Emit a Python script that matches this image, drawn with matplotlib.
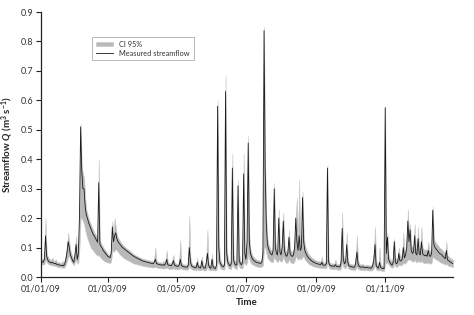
import matplotlib
matplotlib.use("Agg")
import matplotlib.pyplot as plt
import matplotlib.dates as mdates
import numpy as np
import pandas as pd

plt.rcParams['font.family'] = ['Lato', 'DejaVu Sans']
plt.rcParams['mathtext.fontset'] = 'custom'
plt.rcParams['mathtext.rm'] = 'Lato:bold'
plt.rcParams['mathtext.it'] = 'Lato:bold:italic'
plt.rcParams['mathtext.bf'] = 'Lato:bold'

# ---- daily measured streamflow (m3/s), 2009 ----
q_jan = [0.055, 0.052, 0.050, 0.060, 0.140, 0.070, 0.058, 0.052, 0.050, 0.048, 0.050, 0.047, 0.045, 0.046, 0.043, 0.042, 0.041, 0.040, 0.039, 0.040, 0.038, 0.045, 0.060, 0.085, 0.120, 0.100, 0.075, 0.065, 0.055, 0.050, 0.075]
q_feb = [0.110, 0.060, 0.080, 0.210, 0.510, 0.360, 0.300, 0.300, 0.240, 0.210, 0.200, 0.185, 0.175, 0.165, 0.155, 0.145, 0.140, 0.132, 0.125, 0.118, 0.320, 0.110, 0.104, 0.098, 0.090, 0.085, 0.080, 0.075]
q_mar = [0.070, 0.068, 0.066, 0.080, 0.170, 0.120, 0.140, 0.150, 0.130, 0.120, 0.115, 0.110, 0.105, 0.100, 0.097, 0.094, 0.091, 0.088, 0.085, 0.082, 0.079, 0.076, 0.073, 0.070, 0.068, 0.066, 0.064, 0.062, 0.060, 0.058, 0.056]
q_apr = [0.054, 0.053, 0.052, 0.051, 0.050, 0.049, 0.048, 0.047, 0.046, 0.045, 0.050, 0.060, 0.046, 0.044, 0.043, 0.042, 0.041, 0.040, 0.042, 0.040, 0.045, 0.060, 0.042, 0.040, 0.039, 0.038, 0.045, 0.055, 0.040, 0.038]
q_may = [0.037, 0.036, 0.040, 0.060, 0.040, 0.036, 0.035, 0.034, 0.034, 0.033, 0.040, 0.100, 0.050, 0.038, 0.035, 0.033, 0.032, 0.032, 0.050, 0.034, 0.032, 0.031, 0.055, 0.035, 0.031, 0.030, 0.050, 0.080, 0.040, 0.032, 0.030]
q_jun = [0.060, 0.035, 0.030, 0.029, 0.040, 0.580, 0.100, 0.050, 0.042, 0.037, 0.035, 0.040, 0.630, 0.080, 0.050, 0.042, 0.038, 0.045, 0.370, 0.060, 0.045, 0.040, 0.042, 0.310, 0.060, 0.045, 0.042, 0.050, 0.350, 0.080]
q_jul = [0.060, 0.120, 0.455, 0.120, 0.080, 0.068, 0.060, 0.056, 0.053, 0.050, 0.049, 0.048, 0.047, 0.046, 0.050, 0.080, 0.837, 0.360, 0.180, 0.110, 0.095, 0.085, 0.078, 0.075, 0.090, 0.300, 0.100, 0.080, 0.075, 0.200, 0.085]
q_aug = [0.075, 0.100, 0.190, 0.090, 0.075, 0.070, 0.080, 0.135, 0.080, 0.072, 0.070, 0.075, 0.100, 0.200, 0.120, 0.090, 0.140, 0.090, 0.100, 0.270, 0.120, 0.090, 0.080, 0.072, 0.066, 0.062, 0.058, 0.055, 0.052, 0.050, 0.048]
q_sep = [0.046, 0.045, 0.044, 0.043, 0.042, 0.050, 0.041, 0.040, 0.040, 0.045, 0.370, 0.050, 0.040, 0.038, 0.037, 0.037, 0.036, 0.042, 0.036, 0.035, 0.035, 0.034, 0.050, 0.165, 0.060, 0.045, 0.050, 0.110, 0.050, 0.038]
q_oct = [0.036, 0.035, 0.034, 0.033, 0.034, 0.050, 0.085, 0.045, 0.036, 0.034, 0.033, 0.035, 0.033, 0.032, 0.032, 0.033, 0.031, 0.031, 0.030, 0.031, 0.040, 0.060, 0.110, 0.040, 0.032, 0.030, 0.050, 0.032, 0.030, 0.029, 0.028]
q_nov = [0.575, 0.080, 0.135, 0.060, 0.050, 0.045, 0.040, 0.050, 0.120, 0.050, 0.045, 0.050, 0.080, 0.055, 0.055, 0.060, 0.100, 0.065, 0.075, 0.100, 0.190, 0.120, 0.160, 0.090, 0.080, 0.085, 0.140, 0.080, 0.075, 0.130]
q_dec = [0.080, 0.075, 0.120, 0.080, 0.075, 0.072, 0.075, 0.070, 0.090, 0.072, 0.070, 0.080, 0.227, 0.110, 0.100, 0.095, 0.090, 0.085, 0.080, 0.078, 0.075, 0.070, 0.066, 0.062, 0.090, 0.058, 0.055, 0.052, 0.050, 0.047, 0.045]

# ---- 95% confidence interval, lower bound ----
lo_jan = [0.045, 0.043, 0.042, 0.044, 0.06, 0.05, 0.046, 0.043, 0.041, 0.040, 0.040, 0.039, 0.037, 0.037, 0.035, 0.034, 0.033, 0.033, 0.032, 0.032, 0.031, 0.034, 0.042, 0.055, 0.07, 0.07, 0.058, 0.05, 0.045, 0.04, 0.05]
lo_feb = [0.06, 0.045, 0.05, 0.1, 0.2, 0.2, 0.19, 0.18, 0.16, 0.145, 0.13, 0.12, 0.11, 0.1, 0.095, 0.09, 0.085, 0.08, 0.075, 0.072, 0.075, 0.068, 0.064, 0.06, 0.057, 0.054, 0.052, 0.05]
lo_mar = [0.05, 0.048, 0.047, 0.055, 0.09, 0.085, 0.09, 0.095, 0.09, 0.085, 0.08, 0.075, 0.072, 0.068, 0.065, 0.062, 0.06, 0.058, 0.056, 0.054, 0.052, 0.05, 0.048, 0.046, 0.045, 0.044, 0.043, 0.042, 0.041, 0.04, 0.039]
lo_apr = [0.038, 0.037, 0.036, 0.036, 0.035, 0.034, 0.034, 0.033, 0.033, 0.032, 0.033, 0.035, 0.032, 0.031, 0.031, 0.03, 0.03, 0.029, 0.029, 0.029, 0.03, 0.033, 0.029, 0.028, 0.028, 0.027, 0.028, 0.03, 0.027, 0.027]
lo_may = [0.027, 0.026, 0.027, 0.03, 0.028, 0.026, 0.026, 0.025, 0.025, 0.025, 0.026, 0.04, 0.03, 0.027, 0.025, 0.024, 0.024, 0.023, 0.026, 0.024, 0.023, 0.023, 0.026, 0.024, 0.022, 0.022, 0.025, 0.035, 0.026, 0.023, 0.022]
lo_jun = [0.025, 0.024, 0.022, 0.022, 0.024, 0.05, 0.045, 0.032, 0.028, 0.026, 0.025, 0.026, 0.06, 0.045, 0.033, 0.029, 0.027, 0.028, 0.05, 0.035, 0.03, 0.028, 0.028, 0.05, 0.035, 0.03, 0.029, 0.03, 0.05, 0.045]
lo_jul = [0.04, 0.05, 0.08, 0.06, 0.05, 0.045, 0.042, 0.04, 0.038, 0.036, 0.035, 0.035, 0.034, 0.034, 0.035, 0.04, 0.1, 0.1, 0.08, 0.065, 0.06, 0.056, 0.052, 0.05, 0.052, 0.07, 0.06, 0.054, 0.05, 0.06, 0.055]
lo_aug = [0.052, 0.055, 0.07, 0.058, 0.05, 0.048, 0.05, 0.06, 0.052, 0.048, 0.047, 0.048, 0.055, 0.07, 0.065, 0.058, 0.065, 0.06, 0.062, 0.07, 0.068, 0.06, 0.055, 0.05, 0.046, 0.043, 0.041, 0.039, 0.037, 0.036, 0.035]
lo_sep = [0.034, 0.033, 0.032, 0.032, 0.031, 0.032, 0.03, 0.03, 0.029, 0.03, 0.05, 0.035, 0.029, 0.028, 0.027, 0.027, 0.026, 0.028, 0.026, 0.025, 0.025, 0.025, 0.03, 0.05, 0.035, 0.03, 0.031, 0.04, 0.032, 0.027]
lo_oct = [0.026, 0.025, 0.025, 0.024, 0.024, 0.027, 0.035, 0.028, 0.025, 0.024, 0.024, 0.024, 0.023, 0.023, 0.023, 0.023, 0.022, 0.022, 0.022, 0.022, 0.025, 0.03, 0.04, 0.026, 0.023, 0.022, 0.025, 0.022, 0.021, 0.021, 0.02]
lo_nov = [0.05, 0.045, 0.05, 0.042, 0.037, 0.034, 0.031, 0.034, 0.045, 0.036, 0.034, 0.036, 0.042, 0.04, 0.04, 0.042, 0.048, 0.045, 0.048, 0.052, 0.06, 0.058, 0.06, 0.055, 0.052, 0.053, 0.058, 0.052, 0.05, 0.055]
lo_dec = [0.052, 0.05, 0.055, 0.05, 0.048, 0.047, 0.048, 0.046, 0.05, 0.046, 0.045, 0.048, 0.07, 0.065, 0.062, 0.06, 0.057, 0.055, 0.052, 0.05, 0.048, 0.046, 0.044, 0.042, 0.045, 0.04, 0.038, 0.037, 0.036, 0.035, 0.034]

# ---- 95% confidence interval, upper bound ----
hi_jan = [0.065, 0.062, 0.06, 0.08, 0.2, 0.085, 0.07, 0.063, 0.06, 0.058, 0.065, 0.056, 0.054, 0.06, 0.052, 0.05, 0.05, 0.048, 0.047, 0.055, 0.046, 0.06, 0.08, 0.11, 0.15, 0.12, 0.09, 0.078, 0.066, 0.06, 0.1]
hi_feb = [0.14, 0.075, 0.1, 0.25, 0.52, 0.38, 0.35, 0.34, 0.27, 0.23, 0.215, 0.2, 0.19, 0.18, 0.17, 0.16, 0.152, 0.145, 0.138, 0.13, 0.4, 0.125, 0.115, 0.108, 0.1, 0.095, 0.09, 0.085]
hi_mar = [0.078, 0.076, 0.074, 0.1, 0.19, 0.14, 0.2, 0.17, 0.145, 0.133, 0.127, 0.12, 0.115, 0.11, 0.106, 0.102, 0.099, 0.096, 0.093, 0.09, 0.087, 0.083, 0.08, 0.077, 0.075, 0.073, 0.071, 0.069, 0.067, 0.065, 0.063]
hi_apr = [0.062, 0.061, 0.06, 0.059, 0.058, 0.057, 0.056, 0.055, 0.054, 0.053, 0.065, 0.1, 0.055, 0.052, 0.051, 0.05, 0.049, 0.048, 0.055, 0.048, 0.06, 0.09, 0.05, 0.048, 0.047, 0.046, 0.06, 0.075, 0.048, 0.046]
hi_may = [0.045, 0.044, 0.055, 0.125, 0.05, 0.044, 0.043, 0.042, 0.042, 0.041, 0.06, 0.21, 0.065, 0.047, 0.043, 0.041, 0.04, 0.04, 0.065, 0.042, 0.04, 0.039, 0.07, 0.043, 0.039, 0.038, 0.07, 0.16, 0.05, 0.04, 0.038]
hi_jun = [0.08, 0.043, 0.038, 0.037, 0.06, 0.6, 0.14, 0.065, 0.052, 0.046, 0.043, 0.055, 0.685, 0.1, 0.065, 0.052, 0.047, 0.06, 0.42, 0.08, 0.056, 0.05, 0.06, 0.33, 0.08, 0.056, 0.052, 0.065, 0.42, 0.1]
hi_jul = [0.08, 0.15, 0.48, 0.14, 0.095, 0.08, 0.072, 0.067, 0.063, 0.06, 0.058, 0.057, 0.056, 0.055, 0.065, 0.11, 0.85, 0.38, 0.2, 0.13, 0.11, 0.1, 0.092, 0.088, 0.11, 0.32, 0.12, 0.095, 0.09, 0.23, 0.1]
hi_aug = [0.09, 0.13, 0.22, 0.11, 0.09, 0.085, 0.1, 0.16, 0.095, 0.087, 0.085, 0.095, 0.13, 0.21, 0.27, 0.12, 0.33, 0.13, 0.14, 0.29, 0.15, 0.11, 0.097, 0.088, 0.08, 0.075, 0.07, 0.066, 0.063, 0.06, 0.058]
hi_sep = [0.056, 0.055, 0.054, 0.053, 0.052, 0.07, 0.05, 0.049, 0.049, 0.06, 0.38, 0.065, 0.049, 0.047, 0.046, 0.046, 0.045, 0.06, 0.045, 0.044, 0.044, 0.043, 0.07, 0.22, 0.075, 0.056, 0.065, 0.15, 0.062, 0.047]
hi_oct = [0.045, 0.044, 0.043, 0.042, 0.043, 0.075, 0.14, 0.06, 0.045, 0.043, 0.042, 0.045, 0.042, 0.041, 0.041, 0.042, 0.04, 0.04, 0.039, 0.04, 0.055, 0.09, 0.17, 0.055, 0.041, 0.039, 0.1, 0.041, 0.039, 0.038, 0.037]
hi_nov = [0.58, 0.1, 0.15, 0.075, 0.064, 0.058, 0.053, 0.065, 0.13, 0.065, 0.06, 0.065, 0.1, 0.072, 0.072, 0.08, 0.15, 0.085, 0.095, 0.13, 0.23, 0.15, 0.18, 0.11, 0.1, 0.105, 0.18, 0.1, 0.095, 0.17]
hi_dec = [0.1, 0.095, 0.17, 0.1, 0.095, 0.09, 0.095, 0.088, 0.12, 0.09, 0.088, 0.1, 0.24, 0.13, 0.12, 0.115, 0.11, 0.105, 0.1, 0.097, 0.094, 0.088, 0.083, 0.078, 0.12, 0.074, 0.07, 0.066, 0.063, 0.06, 0.058]

tick_dates = ['2009-01-01', '2009-03-01', '2009-05-01', '2009-07-01', '2009-09-01', '2009-11-01']
legend_labels = ['CI 95%', 'Measured streamflow']

measured = np.concatenate([q_jan, q_feb, q_mar, q_apr, q_may, q_jun, q_jul, q_aug, q_sep, q_oct, q_nov, q_dec])
ci_low = np.concatenate([lo_jan, lo_feb, lo_mar, lo_apr, lo_may, lo_jun, lo_jul, lo_aug, lo_sep, lo_oct, lo_nov, lo_dec])
ci_high = np.concatenate([hi_jan, hi_feb, hi_mar, hi_apr, hi_may, hi_jun, hi_jul, hi_aug, hi_sep, hi_oct, hi_nov, hi_dec])
dates = pd.date_range('2009-01-01', periods=len(measured), freq='D')

fig = plt.figure(figsize=(4.74, 3.15), dpi=100)
ax = fig.add_axes([0.0865, 0.1206, 0.8695, 0.8413])

ax.fill_between(dates, ci_low, ci_high, color='#b8b8b8', linewidth=0.4, edgecolor='#c8c8c8', label=legend_labels[0])
ax.plot(dates, measured, color='#1a1a1a', linewidth=0.6, label=legend_labels[1])

ax.set_xlim(pd.Timestamp('2009-01-01'), pd.Timestamp('2009-12-31'))
ax.set_ylim(0, 0.9)
ax.set_yticks(np.arange(0, 0.91, 0.1))
ax.yaxis.set_major_formatter(matplotlib.ticker.FormatStrFormatter('%.1f'))
ax.set_xticks(pd.to_datetime(tick_dates))
ax.xaxis.set_major_formatter(mdates.DateFormatter('%d/%m/%y'))

for s in ['top', 'right']:
    ax.spines[s].set_visible(False)
for s in ['left', 'bottom']:
    ax.spines[s].set_color('#222222')
    ax.spines[s].set_linewidth(0.9)
ax.tick_params(axis='both', direction='out', length=3.5, width=0.8, color='#222222',
               labelsize=6.5, labelcolor='#333333', pad=2)

ax.set_xlabel('Time', fontsize=7, fontweight='bold', color='#222222', labelpad=3)
ax.set_ylabel(r'Streamflow $Q$ (m$^{3}$ s$^{-1}$)', fontsize=7, fontweight='bold', color='#222222', labelpad=4)

leg = ax.legend(loc='upper left', bbox_to_anchor=(0.124, 0.906), borderaxespad=0,
                fontsize=5.3, frameon=True, fancybox=False, edgecolor='#999999',
                handlelength=2.4, handleheight=0.6, borderpad=0.5, labelspacing=0.3)
leg.get_frame().set_linewidth(0.6)
for t in leg.get_texts():
    t.set_color('#333333')

fig.savefig('out.png', dpi=100)
